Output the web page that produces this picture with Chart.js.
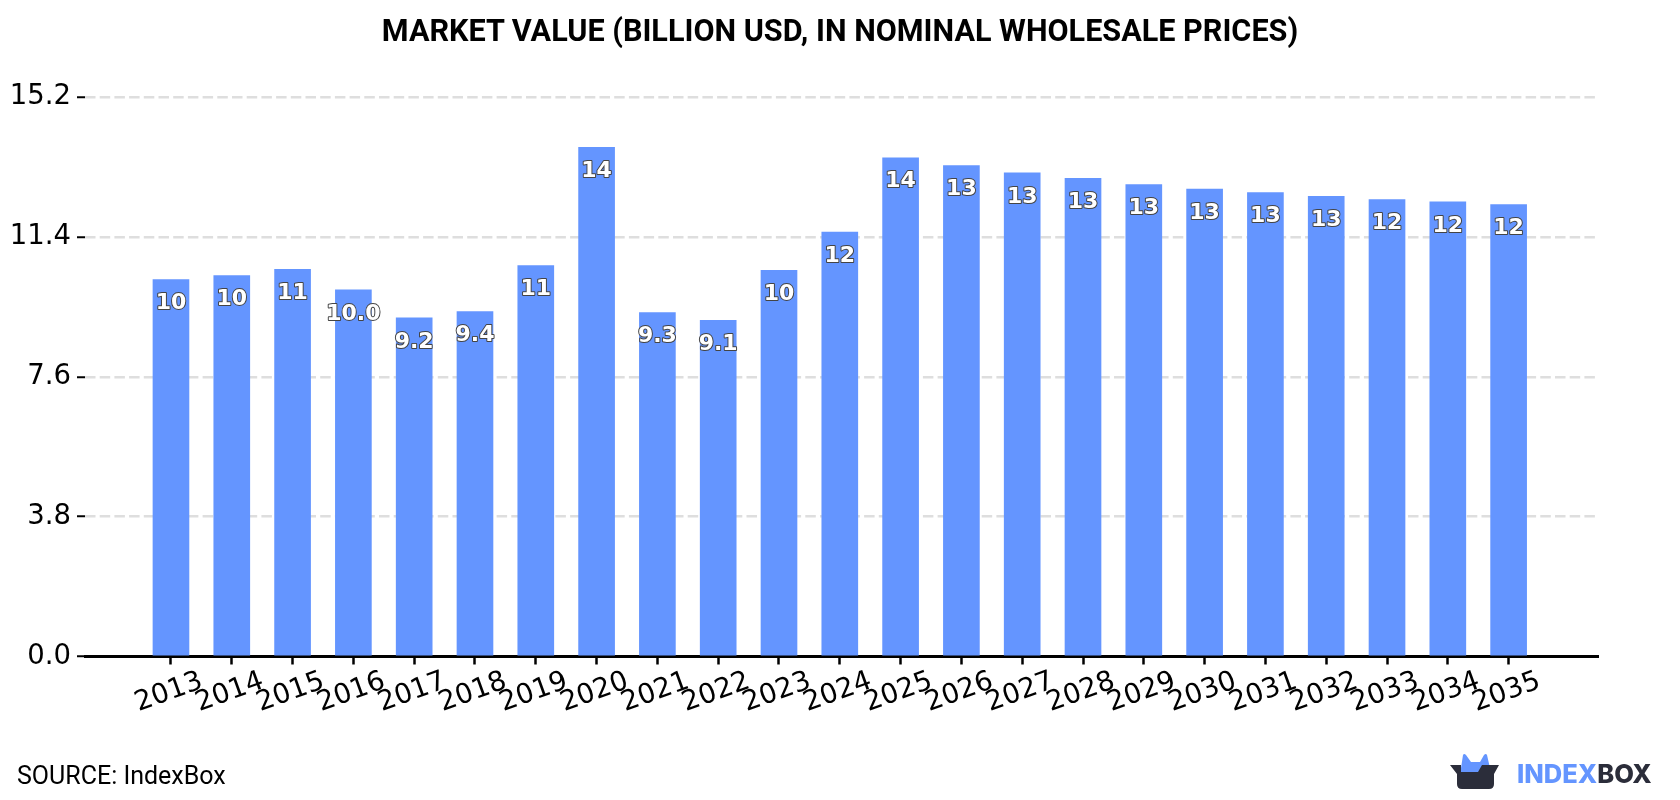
<!DOCTYPE html>
<html>
<head>
  <title>Market Value</title>
  <script src="https://cdn.jsdelivr.net/npm/chart.js"></script>
  <style>
    body { margin: 0; background: #fff; width: 1680px; height: 800px; overflow: hidden; position: relative; }
    #title { position: absolute; left: 0; width: 1680px; top: 12px; text-align: center; font: 700 30.6px/38px Roboto, sans-serif; color: #000; }
    #source { position: absolute; left: 17px; top: 761px; font: 25px Roboto, sans-serif; color: #000; }
    #logo { position: absolute; left: 1450px; top: 752px; }
    #logoText { position: absolute; left: 1517px; top: 758px; font: 800 25.5px/32px Inter, sans-serif; letter-spacing: 0; color: #2b2d3a; }
    #logoText span { color: #6495ff; }
  </style>
</head>
<body>
  <canvas id="marketChart" width="1680" height="800"></canvas>
  <div id="title">MARKET VALUE (BILLION USD, IN NOMINAL WHOLESALE PRICES)</div>
  <div id="source">SOURCE: IndexBox</div>
  <svg id="logo" width="50" height="38" viewBox="0 0 50 38">
    <path d="M11 16 L13 3 Q14 1 16 3 L21 10 L30 10 L34 3 Q36 1 37 3 L40 16 L28 24 L11 24 Z" fill="#6495ff"/>
    <path d="M0 13 L11 13 L11 20 L28 20 L32 13 L49 13 L44 22 L44 32 Q44 37 39 37 L12 37 Q7 37 7 32 L7 22 Z" fill="#2b2d3a"/>
  </svg>
  <div id="logoText"><span>INDEX</span>BOX</div>

  <script>
    const years = [2013, 2014, 2015, 2016, 2017, 2018, 2019, 2020, 2021, 2022, 2023, 2024,
      2025, 2026, 2027, 2028, 2029, 2030, 2031, 2032, 2033, 2034, 2035];
    const values = [10.24, 10.35, 10.52, 9.96, 9.2, 9.37, 10.62, 13.83, 9.34, 9.13, 10.49, 11.53,
      13.55, 13.34, 13.14, 12.99, 12.82, 12.7, 12.6, 12.5, 12.41, 12.35, 12.28];
    const yTicks = [0, 3.8, 7.6, 11.4, 15.2];

    // under 10 keeps a decimal, everything else is a whole number
    function formatValue(v) {
      return v < 10 ? v.toFixed(1) : v.toFixed(0);
    }

    // white labels with a dark outline, just inside the top of each bar
    const barLabels = {
      id: 'barLabels',
      afterDatasetsDraw(chart) {
        const ctx = chart.ctx;
        ctx.save();
        ctx.font = 'bold 22px "DejaVu Sans"';
        ctx.textAlign = 'center';
        ctx.textBaseline = 'middle';
        ctx.lineJoin = 'round';
        chart.getDatasetMeta(0).data.forEach((bar, i) => {
          const text = formatValue(values[i]);
          ctx.lineWidth = 2;
          ctx.strokeStyle = '#444';
          ctx.strokeText(text, bar.x, bar.y + 24);
          ctx.fillStyle = '#fff';
          ctx.fillText(text, bar.x, bar.y + 24);
        });
        ctx.restore();
      }
    };

    // slanted years, centred under their tick marks
    const yearLabels = {
      id: 'yearLabels',
      afterDraw(chart) {
        const ctx = chart.ctx;
        const x = chart.scales.x;
        ctx.save();
        ctx.font = '27.5px "DejaVu Sans"';
        ctx.fillStyle = '#000';
        ctx.textAlign = 'center';
        ctx.textBaseline = 'middle';
        x.ticks.forEach((tick, i) => {
          ctx.save();
          ctx.translate(x.getPixelForTick(i) - 2, 692.5);
          ctx.rotate(-20 * Math.PI / 180);
          ctx.fillText(String(tick.value), 0, 0);
          ctx.restore();
        });
        ctx.restore();
      }
    };

    new Chart(document.getElementById('marketChart'), {
      type: 'bar',
      data: {
        datasets: [{
          data: years.map((year, i) => ({ x: year, y: values[i] })),
          backgroundColor: '#6495ff',
          barThickness: 36
        }]
      },
      options: {
        responsive: false,
        animation: false,
        layout: { padding: { top: 97, right: 82, bottom: 135.5, left: 0 } },
        plugins: {
          legend: { display: false },
          tooltip: { enabled: false }
        },
        scales: {
          x: {
            type: 'linear',
            offset: false,
            min: 2011.586,
            max: 2036.47,
            afterBuildTicks(scale) {
              scale.ticks = years.map(year => ({ value: year }));
            },
            ticks: { display: false },
            grid: { offset: false, drawOnChartArea: false, tickColor: '#000', tickLength: 8, tickWidth: 2.5 },
            border: { color: '#000', width: 3 }
          },
          y: {
            min: 0,
            max: 15.2,
            afterBuildTicks(scale) {
              scale.ticks = yTicks.map(v => ({ value: v }));
            },
            afterFit(scale) {
              scale.width = 85;
            },
            ticks: {
              color: '#000',
              font: { family: 'DejaVu Sans', size: 27.5 },
              padding: 6,
              callback: v => v.toFixed(1)
            },
            grid: {
              color: ctx => ctx.tick.value === 0 ? 'transparent' : '#dedede',
              lineWidth: 2.5,
              tickColor: '#000',
              tickLength: 8,
              tickWidth: 2
            },
            border: { display: false, dash: [10.5, 4.2] }
          }
        }
      },
      plugins: [barLabels, yearLabels]
    });
  </script>
</body>
</html>
